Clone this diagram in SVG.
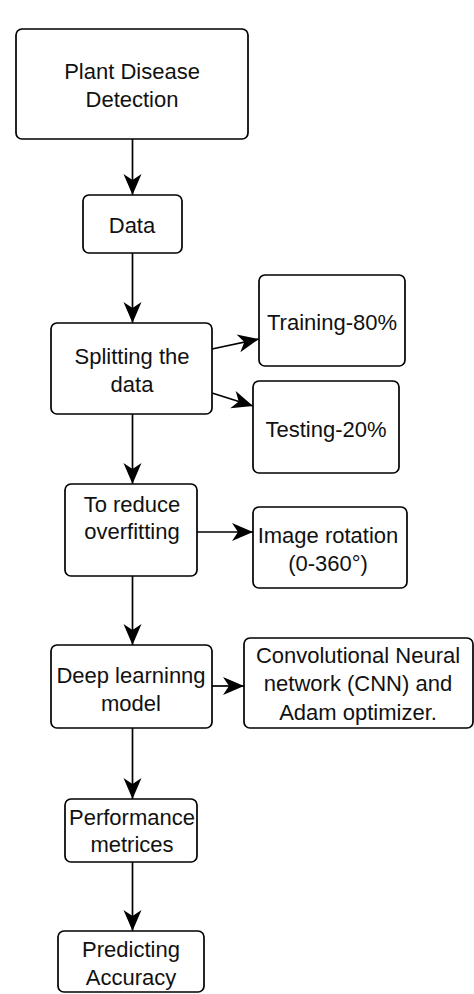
<svg xmlns="http://www.w3.org/2000/svg" width="474" height="994" viewBox="0 0 474 994">
<style>
.box{fill:#fff;stroke:#000;stroke-width:1.7}
.t{font-family:"Liberation Sans",Arial,sans-serif;font-size:22px;fill:#111;text-anchor:middle}
.c{fill:none;stroke:#000;stroke-width:1.7}
</style>
<defs>
<marker id="ah" viewBox="-23 -10 24 20" refX="0" refY="0" markerWidth="24" markerHeight="20" markerUnits="userSpaceOnUse" orient="auto">
<path d="M0,0 L-21,-9 L-15,0 L-21,9 Z" fill="#000"/>
</marker>
</defs>
<rect width="474" height="994" fill="#fff"/>
<g id="connectors">
<line class="c" x1="132.5" y1="139" x2="132.5" y2="195" marker-end="url(#ah)"/>
<line class="c" x1="132.5" y1="253" x2="132.5" y2="323" marker-end="url(#ah)"/>
<line class="c" x1="212" y1="349" x2="259" y2="339" marker-end="url(#ah)"/>
<line class="c" x1="212" y1="393" x2="253" y2="406" marker-end="url(#ah)"/>
<line class="c" x1="132.5" y1="414" x2="132.5" y2="484" marker-end="url(#ah)"/>
<line class="c" x1="197" y1="532" x2="253" y2="532" marker-end="url(#ah)"/>
<line class="c" x1="132.5" y1="576" x2="132.5" y2="645" marker-end="url(#ah)"/>
<line class="c" x1="212" y1="686" x2="244" y2="686" marker-end="url(#ah)"/>
<line class="c" x1="132.5" y1="728" x2="132.5" y2="799" marker-end="url(#ah)"/>
<line class="c" x1="132.5" y1="862" x2="132.5" y2="931" marker-end="url(#ah)"/>
</g>
<g id="plant-disease-detection">
<rect class="box" x="16" y="29" width="232" height="110" rx="6"/>
<text class="t" x="132" y="79">Plant Disease</text>
<text class="t" x="132" y="107">Detection</text>
</g>
<g id="data">
<rect class="box" x="83" y="195" width="99" height="58" rx="6"/>
<text class="t" x="132" y="233">Data</text>
</g>
<g id="splitting">
<rect class="box" x="51" y="323" width="161" height="91" rx="6"/>
<text class="t" x="132" y="364">Splitting the</text>
<text class="t" x="132" y="392">data</text>
</g>
<g id="training">
<rect class="box" x="259" y="275" width="146" height="91" rx="6"/>
<text class="t" x="332" y="330">Training-80%</text>
</g>
<g id="testing">
<rect class="box" x="253" y="381" width="146" height="92" rx="6"/>
<text class="t" x="326" y="437">Testing-20%</text>
</g>
<g id="overfitting">
<rect class="box" x="65" y="484" width="132" height="92" rx="6"/>
<text class="t" x="132" y="512">To reduce</text>
<text class="t" x="132" y="539">overfitting</text>
</g>
<g id="image-rotation">
<rect class="box" x="253" y="507" width="154" height="81" rx="6"/>
<text class="t" x="328" y="543">Image rotation</text>
<text class="t" x="328" y="571">(0-360°)</text>
</g>
<g id="deep-learning">
<rect class="box" x="51" y="645" width="161" height="83" rx="6"/>
<text class="t" x="131" y="683">Deep learninng</text>
<text class="t" x="131" y="711">model</text>
</g>
<g id="cnn">
<rect class="box" x="244" y="638" width="229" height="90" rx="6"/>
<text class="t" x="358" y="663">Convolutional Neural</text>
<text class="t" x="358" y="691">network (CNN) and</text>
<text class="t" x="358" y="720">Adam optimizer.</text>
</g>
<g id="performance">
<rect class="box" x="65" y="799" width="132" height="63" rx="6"/>
<text class="t" x="132" y="825">Performance</text>
<text class="t" x="132" y="852">metrices</text>
</g>
<g id="predicting">
<rect class="box" x="58" y="931" width="146" height="61" rx="6"/>
<text class="t" x="131" y="957">Predicting</text>
<text class="t" x="131" y="985">Accuracy</text>
</g>
</svg>
